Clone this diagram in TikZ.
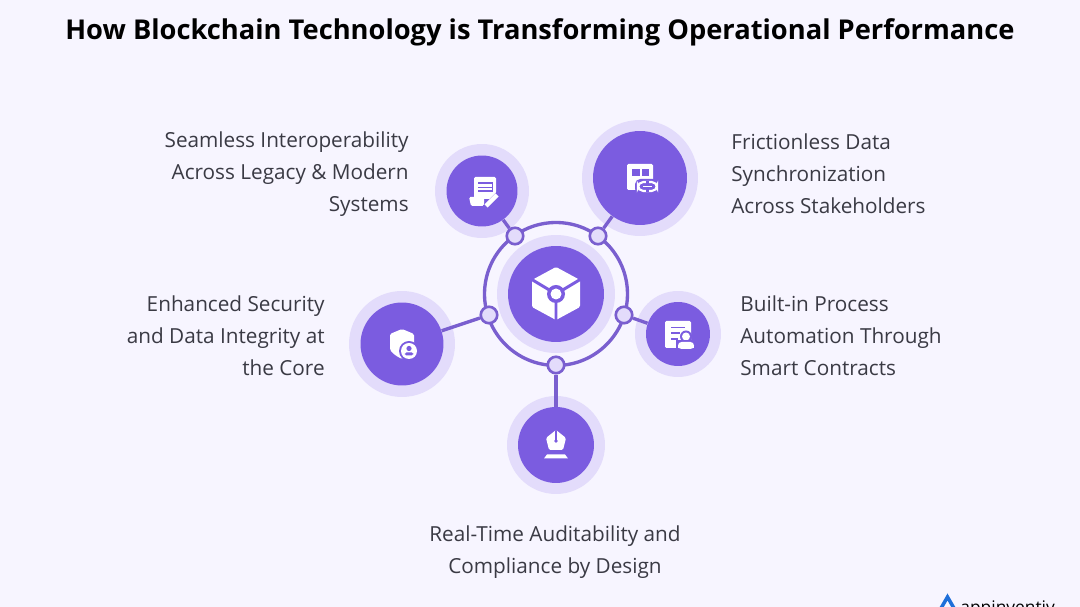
\documentclass[tikz,border=0pt]{standalone}
\usepackage{fontspec}
\setmainfont{Open Sans}
\usepackage{xcolor}
\usetikzlibrary{positioning}
\definecolor{pagebg}{HTML}{F7F5FF}
\definecolor{primary}{HTML}{7B5CE0}
\definecolor{halo}{HTML}{E3DCFB}
\definecolor{wire}{HTML}{7A5FCF}
\definecolor{inktext}{HTML}{3A3A44}
\definecolor{logoblue}{HTML}{1E6FD9}
\tikzstyle{hub} = [circle, inner sep=0pt, fill=primary]
\tikzstyle{glow} = [circle, inner sep=0pt, fill=halo]
\tikzstyle{dot} = [circle, inner sep=0pt, minimum size=0.33cm, draw=wire, line width=1.5pt, fill=halo]
\tikzstyle{link} = [draw=wire, line width=1.9pt]
\tikzstyle{caption} = [inner sep=0pt, text=inktext, font=\fontsize{11.8}{18.14}\selectfont]
\tikzstyle{glyph} = [fill=white, draw=none, rounded corners=0.8pt]
\tikzstyle{cut} = [draw=primary, line width=0.9pt]

\begin{document}
\begin{tikzpicture}[x=0.02cm, y=-0.02cm]
    % Page
    \fill[pagebg] (0,0) rectangle (1080,607);
    \useasboundingbox (0,0) rectangle (1080,607);

    % Title
    \node[inner sep=0pt, font=\fontsize{15.53}{18}\selectfont\bfseries, text=black] (title) at (540,32) {How Blockchain Technology is Transforming Operational Performance};

    % Halos
    \node[glow, minimum size=2.36cm] (haloC) at (556,294) {};
    \node[glow, minimum size=1.88cm] (haloTL) at (482,191) {};
    \node[glow, minimum size=2.32cm] (haloTR) at (640,178) {};
    \node[glow, minimum size=2.12cm] (haloL) at (402,344) {};
    \node[glow, minimum size=1.72cm] (haloR) at (678,334) {};
    \node[glow, minimum size=1.96cm] (haloB) at (556,445) {};

    % Ring
    \node[circle, inner sep=0pt, minimum size=2.86cm, draw=wire, line width=1.9pt] (ring) at (556,294) {};

    % Hubs
    \node[hub, minimum size=1.92cm] (hubC) at (556,294) {};
    \node[hub, minimum size=1.42cm] (hubTL) at (482,191) {};
    \node[hub, minimum size=1.88cm] (hubTR) at (640,178) {};
    \node[hub, minimum size=1.66cm] (hubL) at (402,344) {};
    \node[hub, minimum size=1.28cm] (hubR) at (678,334) {};
    \node[hub, minimum size=1.52cm] (hubB) at (556,445) {};

    % Dots on the ring
    \node[dot] (dotTL) at (515,236) {};
    \node[dot] (dotTR) at (598,236) {};
    \node[dot] (dotL) at (489,315) {};
    \node[dot] (dotR) at (624,315) {};
    \node[dot] (dotB) at (556,365) {};

    % Connectors
    \draw[link] (dotTL) -- (hubTL);
    \draw[link] (dotTR) -- (hubTR);
    \draw[link] (dotL) -- (hubL);
    \draw[link] (dotR) -- (hubR);
    \draw[link] (dotB) -- (hubB);

    % Cube icon
    \begin{scope}[shift={(556,294)}]
        \fill[glyph] (0,-27) -- (24,-14) -- (24,13) -- (0,26) -- (-24,13) -- (-24,-14) -- cycle;
        \draw[cut, line width=1.7pt] (0,0) -- (25,-15) (0,0) -- (-25,-15) (0,0) -- (0,27);
        \fill[primary] (0,0) circle (9);
        \fill[white] (0,0) circle (5.5);
    \end{scope}

    % Document icon
    \begin{scope}[shift={(482,191)}]
        \fill[glyph] (-8,-14) rectangle (14,8);
        \fill[primary] (-4.5,-9) rectangle (10.5,1);
        \fill[white] (-4,-7) rectangle (10,-4);
        \fill[white] (-4,-2.5) rectangle (10,-0.5);
        \fill[glyph] (-13,6) -- (2,6) -- (2,15) -- (-11,15) -- cycle;
        \draw[primary, line width=3.6pt] (3,17) -- (17,3);
        \draw[white, line width=2.6pt] (4,15) -- (15,4);
    \end{scope}

    % Building and link icon
    \begin{scope}[shift={(640,178)}]
        \fill[glyph] (-13,-14) rectangle (13,12);
        \fill[primary] (-8,-9) rectangle (-0.5,-1.5);
        \fill[primary] (1.5,-9) rectangle (9,-1.5);
        \fill[primary, rounded corners=3pt] (-5,1) rectangle (20,16);
        \draw[white, line width=1.2pt, rounded corners=3pt] (-2,4) rectangle (17,13);
        \fill[primary] (6,3) rectangle (9,14);
        \fill[white] (3,7.6) rectangle (12,9.4);
    \end{scope}

    % Shield icon
    \begin{scope}[shift={(402,344)}]
        \fill[glyph] (0,-15) -- (12,-10) -- (12,3) .. controls (12,8) and (6,12) .. (0,15) .. controls (-6,12) and (-12,8) .. (-12,3) -- (-12,-10) -- cycle;
        \fill[primary] (7,7) circle (10);
        \fill[white] (7,7) circle (8);
        \fill[primary] (7,4.5) circle (2.6);
        \fill[primary, rounded corners=1pt] (2.5,11.5) rectangle (11.5,8.5);
    \end{scope}

    % Process icon
    \begin{scope}[shift={(678,334)}]
        \fill[glyph] (-13,-13) rectangle (13,14);
        \draw[cut] (-7,-6.5) -- (7,-6.5) (-7,-1) -- (2,-1) (-7,5) -- (0,5);
        \fill[primary] (8,2.5) circle (6);
        \fill[white] (8,2.5) circle (4);
        \fill[primary] (-2,6.5) rectangle (18,16);
        \fill[white, rounded corners=2pt] (0,8) rectangle (16,15);
        \fill[white] (0,11) rectangle (16,14);
    \end{scope}

    % Pen nib icon
    \begin{scope}[shift={(556,445)}]
        \fill[glyph] (0,-15) -- (10,-7) -- (7,5) -- (-7,5) -- (-10,-7) -- cycle;
        \draw[cut] (0,-14) -- (0,-4);
        \fill[primary] (0,-4) circle (1.8);
        \fill[white] (-9,9.5) -- (9,9.5) -- (12,13.5) -- (-12,13.5) -- cycle;
    \end{scope}

    % Captions
    \node[caption, align=right, anchor=east] (capTL) at (409,174) {Seamless Interoperability\\Across Legacy \& Modern\\Systems};
    \node[caption, align=left, anchor=west] (capTR) at (731,174) {Frictionless Data\\Synchronization\\Across Stakeholders};
    \node[caption, align=right, anchor=east] (capL) at (325,336) {Enhanced Security\\and Data Integrity at\\the Core};
    \node[caption, align=left, anchor=west] (capR) at (740,336) {Built-in Process\\Automation Through\\Smart Contracts};
    \node[caption, align=center] (capB) at (555,552.5) {Real-Time Auditability and\\Compliance by Design};

    % Logo
    \coordinate (logoA) at (940,610);
    \coordinate (logoB) at (947.5,597);
    \coordinate (logoC) at (955,610);
    \draw[logoblue, line width=2pt] (logoA) -- (logoB) -- (logoC);
    \node[inner sep=0pt, anchor=base west, font=\fontsize{9.9}{14}\selectfont, text=black] (logo) at (960,614) {appinventiv};
\end{tikzpicture}
\end{document}
